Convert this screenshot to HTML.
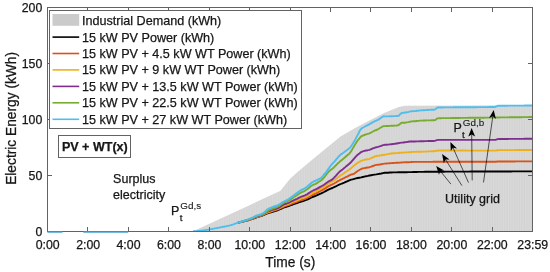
<!DOCTYPE html>
<html lang="en"><head><meta charset="utf-8"><title>Electric Energy vs Time</title>
<style>html,body{margin:0;padding:0;background:#fff;}body{width:550px;height:272px;overflow:hidden;}svg{display:block;}text{font-family:'Liberation Sans', Arial, Helvetica, sans-serif;fill:#161616;stroke:#161616;stroke-width:0.25px;}</style></head><body>
<svg width="550" height="272" viewBox="0 0 550 272">
<rect x="0" y="0" width="550" height="272" fill="#ffffff"/>
<defs><pattern id="st" width="1.686" height="8" patternUnits="userSpaceOnUse" x="47"><rect width="1.686" height="8" fill="#d9d9d9"/><rect x="0" width="0.5" height="8" fill="#d0d0d0"/></pattern><clipPath id="cp"><rect x="47.5" y="7.5" width="485.0" height="224.0"/></clipPath></defs>
<polygon points="192.6,231.5 280.5,190.8 290.0,178.8 297.0,172.6 310.0,161.6 340.5,136.5 354.7,128.3 369.4,120.4 384.1,113.0 398.8,107.0 404.7,105.8 470.0,105.5 532.5,105.0 532.5,231.5 192.6,231.5" fill="url(#st)"/>
<g clip-path="url(#cp)" fill="none" stroke-linejoin="round" stroke-linecap="butt">
<polyline points="238.0,222.7 239.7,222.3 241.4,221.9 243.1,221.5 244.7,221.1 246.4,220.7 248.1,220.3 249.8,219.8 251.5,219.2 253.2,218.6 254.9,218.0 256.5,217.4 258.2,216.9 259.9,216.4 261.6,215.8 263.3,215.1 265.0,214.4 266.7,213.7 268.3,213.1 270.0,212.6 271.7,212.0 273.4,211.5 275.1,211.0 276.8,210.5 278.5,209.9 280.1,209.2 281.8,208.5 283.5,207.7 285.2,207.1 286.9,206.6 288.6,206.0 290.3,205.4 292.0,204.8 293.6,204.2 295.3,203.6 297.0,203.0 298.7,202.4 300.4,201.8 302.1,201.3 303.8,200.8 305.4,200.2 307.1,199.6 308.8,198.8 310.5,198.0 312.2,197.2 313.9,196.5 315.6,195.8 317.2,195.1 318.9,194.3 320.6,193.6 322.3,192.8 324.0,192.0 325.7,191.1 327.4,190.2 329.0,189.4 330.7,188.7 332.4,188.0 334.1,187.2 335.8,186.4 337.5,185.5 339.2,184.7 340.8,184.0 342.5,183.3 344.2,182.6 345.9,181.8 347.6,181.1 349.3,180.3 351.0,179.7 352.6,179.3 354.3,178.8 356.0,178.4 357.7,178.0 359.4,177.7 361.1,177.4 362.8,177.0 364.4,176.6 366.1,176.2 367.8,175.9 369.5,175.5 371.2,175.2 372.9,174.9 374.6,174.6 376.3,174.4 377.9,174.1 379.6,173.8 381.3,173.5 383.0,173.1 384.7,172.8 386.4,172.8 388.1,172.7 389.7,172.5 391.4,172.5 393.1,172.4 394.8,172.4 396.5,172.4 398.2,172.3 399.9,172.3 401.5,172.2 403.2,172.2 404.9,172.2 406.6,172.2 408.3,172.1 410.0,172.1 411.7,172.1 413.3,172.0 415.0,172.0 416.7,172.0 418.4,171.9 420.1,171.9 421.8,171.9 423.5,171.9 425.1,171.8 426.8,171.8 428.5,171.8 430.2,171.8 431.9,171.8 433.6,171.8 435.3,171.8 436.9,171.7 438.6,171.7 440.3,171.7 442.0,171.7 443.7,171.7 445.4,171.6 447.1,171.6 448.7,171.6 450.4,171.6 452.1,171.6 453.8,171.6 455.5,171.6 457.2,171.6 458.9,171.6 460.6,171.6 462.2,171.6 463.9,171.6 465.6,171.6 467.3,171.6 469.0,171.6 470.7,171.5 472.4,171.5 474.0,171.5 475.7,171.5 477.4,171.5 479.1,171.5 480.8,171.5 482.5,171.5 484.2,171.5 485.8,171.5 487.5,171.5 489.2,171.5 490.9,171.5 492.6,171.5 494.3,171.5 496.0,171.5 497.6,171.5 499.3,171.5 501.0,171.5 502.7,171.5 504.4,171.5 506.1,171.5 507.8,171.5 509.4,171.5 511.1,171.5 512.8,171.4 514.5,171.4 516.2,171.4 517.9,171.4 519.6,171.4 521.2,171.4 522.9,171.4 524.6,171.4 526.3,171.4 528.0,171.4 529.7,171.4 531.4,171.4 532.5,171.4" stroke="#000000" stroke-width="1.9"/>
<polyline points="238.0,222.7 239.7,222.3 241.4,221.9 243.1,221.4 244.7,221.0 246.4,220.5 248.1,220.1 249.8,219.6 251.5,219.0 253.2,218.4 254.9,217.7 256.5,217.1 258.2,216.6 259.9,216.1 261.6,215.5 263.3,214.7 265.0,213.9 266.7,213.2 268.3,212.6 270.0,212.0 271.7,211.4 273.4,210.9 275.1,210.3 276.8,209.8 278.5,209.2 280.1,208.5 281.8,207.6 283.5,206.8 285.2,206.1 286.9,205.6 288.6,205.0 290.3,204.4 292.0,203.7 293.6,203.0 295.3,202.4 297.0,201.8 298.7,201.1 300.4,200.4 302.1,199.8 303.8,199.3 305.4,198.8 307.1,198.0 308.8,197.2 310.5,196.2 312.2,195.2 313.9,194.4 315.6,193.7 317.2,192.8 318.9,191.9 320.6,191.0 322.3,190.1 324.0,189.1 325.7,188.1 327.4,186.9 329.0,186.0 330.7,185.1 332.4,184.4 334.1,183.5 335.8,182.5 337.5,181.4 339.2,180.5 340.8,179.6 342.5,178.9 344.2,178.0 345.9,177.1 347.6,176.3 349.3,175.4 351.0,174.6 352.6,174.3 354.3,173.6 356.0,172.2 357.7,171.0 359.4,170.0 361.1,169.0 362.8,168.4 364.4,168.1 366.1,167.8 367.8,167.5 369.5,167.2 371.2,166.7 372.9,166.0 374.6,165.4 376.3,164.9 377.9,164.7 379.6,164.5 381.3,164.2 383.0,163.9 384.7,163.6 386.4,163.5 388.1,163.4 389.7,163.2 391.4,163.1 393.1,163.0 394.8,162.9 396.5,162.8 398.2,162.7 399.9,162.6 401.5,162.5 403.2,162.4 404.9,162.3 406.6,162.3 408.3,162.2 410.0,162.1 411.7,162.0 413.3,161.9 415.0,161.9 416.7,161.9 418.4,161.9 420.1,161.9 421.8,161.9 423.5,161.9 425.1,161.9 426.8,161.9 428.5,161.9 430.2,161.9 431.9,161.9 433.6,161.8 435.3,161.8 436.9,161.8 438.6,161.8 440.3,161.8 442.0,161.8 443.7,161.8 445.4,161.8 447.1,161.8 448.7,161.8 450.4,161.8 452.1,161.8 453.8,161.8 455.5,161.8 457.2,161.8 458.9,161.8 460.6,161.8 462.2,161.8 463.9,161.8 465.6,161.8 467.3,161.8 469.0,161.8 470.7,161.8 472.4,161.8 474.0,161.8 475.7,161.8 477.4,161.8 479.1,161.8 480.8,161.8 482.5,161.8 484.2,161.8 485.8,161.8 487.5,161.8 489.2,161.8 490.9,161.8 492.6,161.8 494.3,161.8 496.0,161.7 497.6,161.5 499.3,161.5 501.0,161.5 502.7,161.5 504.4,161.5 506.1,161.5 507.8,161.5 509.4,161.5 511.1,161.5 512.8,161.5 514.5,161.5 516.2,161.4 517.9,161.4 519.6,161.4 521.2,161.4 522.9,161.4 524.6,161.4 526.3,161.4 528.0,161.4 529.7,161.4 531.4,161.4 532.5,161.4" stroke="#D95319" stroke-width="1.9"/>
<polyline points="238.0,222.7 239.7,222.3 241.4,221.8 243.1,221.4 244.7,220.9 246.4,220.5 248.1,220.0 249.8,219.5 251.5,218.9 253.2,218.2 254.9,217.4 256.5,216.8 258.2,216.3 259.9,215.9 261.6,215.2 263.3,214.3 265.0,213.4 266.7,212.6 268.3,212.0 270.0,211.4 271.7,210.8 273.4,210.2 275.1,209.7 276.8,209.2 278.5,208.5 280.1,207.7 281.8,206.7 283.5,205.8 285.2,205.1 286.9,204.5 288.6,204.0 290.3,203.2 292.0,202.4 293.6,201.7 295.3,201.0 297.0,200.3 298.7,199.6 300.4,198.8 302.1,198.2 303.8,197.7 305.4,197.1 307.1,196.3 308.8,195.3 310.5,194.2 312.2,193.2 313.9,192.3 315.6,191.5 317.2,190.6 318.9,189.6 320.6,188.6 322.3,187.6 324.0,186.6 325.7,185.4 327.4,184.1 329.0,183.1 330.7,182.2 332.4,181.4 334.1,180.4 335.8,179.1 337.5,177.7 339.2,176.4 340.8,175.3 342.5,174.2 344.2,173.0 345.9,171.8 347.6,170.7 349.3,169.5 351.0,168.3 352.6,166.9 354.3,165.4 356.0,164.0 357.7,162.8 359.4,161.8 361.1,160.9 362.8,160.3 364.4,159.9 366.1,159.5 367.8,159.2 369.5,158.9 371.2,158.2 372.9,157.4 374.6,156.7 376.3,156.0 377.9,155.8 379.6,155.6 381.3,155.3 383.0,155.0 384.7,154.8 386.4,154.4 388.1,154.1 389.7,153.8 391.4,153.5 393.1,153.3 394.8,153.2 396.5,153.1 398.2,153.0 399.9,152.8 401.5,152.7 403.2,152.6 404.9,152.5 406.6,152.4 408.3,152.3 410.0,152.2 411.7,152.0 413.3,151.9 415.0,151.9 416.7,151.8 418.4,151.8 420.1,151.7 421.8,151.7 423.5,151.6 425.1,151.6 426.8,151.5 428.5,151.4 430.2,151.4 431.9,151.3 433.6,151.3 435.3,151.0 436.9,150.7 438.6,150.5 440.3,150.5 442.0,150.5 443.7,150.5 445.4,150.5 447.1,150.5 448.7,150.5 450.4,150.5 452.1,150.5 453.8,150.5 455.5,150.5 457.2,150.5 458.9,150.5 460.6,150.5 462.2,150.5 463.9,150.5 465.6,150.5 467.3,150.6 469.0,150.6 470.7,150.6 472.4,150.6 474.0,150.6 475.7,150.6 477.4,150.6 479.1,150.6 480.8,150.6 482.5,150.6 484.2,150.6 485.8,150.6 487.5,150.6 489.2,150.6 490.9,150.6 492.6,150.6 494.3,150.6 496.0,150.5 497.6,150.2 499.3,150.1 501.0,150.1 502.7,150.1 504.4,150.1 506.1,150.1 507.8,150.1 509.4,150.1 511.1,150.1 512.8,150.1 514.5,150.1 516.2,150.0 517.9,150.0 519.6,150.0 521.2,150.0 522.9,150.0 524.6,150.0 526.3,150.0 528.0,150.0 529.7,150.0 531.4,150.0 532.5,150.0" stroke="#EDB120" stroke-width="1.9"/>
<polyline points="238.0,222.7 239.7,222.3 241.4,221.8 243.1,221.3 244.7,220.8 246.4,220.3 248.1,219.8 249.8,219.3 251.5,218.6 253.2,217.9 254.9,217.1 256.5,216.4 258.2,216.0 259.9,215.5 261.6,214.8 263.3,213.9 265.0,212.9 266.7,212.0 268.3,211.4 270.0,210.8 271.7,210.2 273.4,209.6 275.1,209.0 276.8,208.5 278.5,207.9 280.1,207.0 281.8,205.8 283.5,204.7 285.2,204.0 286.9,203.4 288.6,202.8 290.3,202.0 292.0,201.1 293.6,200.3 295.3,199.5 297.0,198.8 298.7,197.9 300.4,197.1 302.1,196.4 303.8,195.8 305.4,195.2 307.1,194.3 308.8,193.1 310.5,192.0 312.2,191.0 313.9,190.2 315.6,189.4 317.2,188.6 318.9,187.6 320.6,186.7 322.3,185.7 324.0,184.7 325.7,183.5 327.4,182.3 329.0,181.2 330.7,180.4 332.4,179.4 334.1,177.7 335.8,175.8 337.5,173.8 339.2,172.1 340.8,170.8 342.5,169.5 344.2,168.1 345.9,166.6 347.6,165.2 349.3,163.8 351.0,162.2 352.6,160.3 354.3,158.3 356.0,156.4 357.7,154.8 359.4,153.5 361.1,152.1 362.8,151.4 364.4,150.9 366.1,150.5 367.8,150.2 369.5,149.8 371.2,149.2 372.9,148.4 374.6,147.8 376.3,147.2 377.9,146.9 379.6,146.4 381.3,145.8 383.0,145.2 384.7,144.8 386.4,144.8 388.1,144.6 389.7,144.4 391.4,144.2 393.1,144.0 394.8,143.8 396.5,143.5 398.2,143.2 399.9,142.9 401.5,142.6 403.2,142.5 404.9,142.3 406.6,142.1 408.3,141.8 410.0,141.5 411.7,141.5 413.3,141.5 415.0,141.5 416.7,141.4 418.4,141.4 420.1,141.3 421.8,141.3 423.5,141.2 425.1,141.1 426.8,141.1 428.5,141.0 430.2,141.0 431.9,140.9 433.6,141.0 435.3,140.6 436.9,140.1 438.6,139.9 440.3,139.9 442.0,139.9 443.7,139.9 445.4,139.9 447.1,139.9 448.7,139.9 450.4,139.9 452.1,139.9 453.8,139.9 455.5,139.9 457.2,139.9 458.9,139.9 460.6,139.9 462.2,139.9 463.9,139.9 465.6,139.9 467.3,139.9 469.0,139.9 470.7,139.9 472.4,139.9 474.0,139.9 475.7,139.9 477.4,139.9 479.1,139.9 480.8,139.9 482.5,139.9 484.2,139.9 485.8,139.9 487.5,139.9 489.2,139.9 490.9,139.9 492.6,139.9 494.3,139.9 496.0,139.7 497.6,139.1 499.3,139.0 501.0,139.0 502.7,139.0 504.4,139.0 506.1,139.0 507.8,139.0 509.4,138.9 511.1,138.9 512.8,138.9 514.5,138.9 516.2,138.9 517.9,138.9 519.6,138.9 521.2,138.9 522.9,138.9 524.6,138.8 526.3,138.8 528.0,138.8 529.7,138.8 531.4,138.8 532.5,138.8" stroke="#7E2F8E" stroke-width="1.9"/>
<polyline points="238.0,222.7 239.7,222.2 241.4,221.7 243.1,221.2 244.7,220.7 246.4,220.2 248.1,219.7 249.8,219.1 251.5,218.4 253.2,217.7 254.9,216.8 256.5,216.1 258.2,215.7 259.9,215.3 261.6,214.7 263.3,213.8 265.0,212.8 266.7,211.6 268.3,210.6 270.0,209.7 271.7,209.0 273.4,208.4 275.1,207.8 276.8,207.2 278.5,206.4 280.1,205.2 281.8,203.9 283.5,202.7 285.2,201.9 286.9,201.3 288.6,200.6 290.3,199.7 292.0,198.5 293.6,197.3 295.3,196.2 297.0,195.1 298.7,194.0 300.4,192.9 302.1,192.0 303.8,191.3 305.4,190.5 307.1,189.3 308.8,187.9 310.5,186.5 312.2,185.3 313.9,184.5 315.6,183.8 317.2,182.9 318.9,181.8 320.6,180.8 322.3,179.4 324.0,177.5 325.7,175.3 327.4,173.1 329.0,171.3 330.7,169.9 332.4,168.7 334.1,167.2 335.8,165.5 337.5,163.7 339.2,162.1 340.8,160.7 342.5,159.4 344.2,158.0 345.9,156.5 347.6,155.1 349.3,153.7 351.0,151.5 352.6,148.7 354.3,145.7 356.0,142.9 357.7,140.5 359.4,138.4 361.1,136.4 362.8,135.6 364.4,135.0 366.1,134.4 367.8,133.9 369.5,133.4 371.2,132.5 372.9,131.5 374.6,130.7 376.3,130.0 377.9,129.3 379.6,128.3 381.3,127.2 383.0,126.2 384.7,126.1 386.4,126.0 388.1,126.0 389.7,125.9 391.4,125.8 393.1,125.7 394.8,125.6 396.5,125.5 398.2,125.3 399.9,124.1 401.5,122.8 403.2,122.8 404.9,122.7 406.6,122.4 408.3,122.1 410.0,121.7 411.7,121.4 413.3,121.3 415.0,121.2 416.7,121.0 418.4,120.9 420.1,120.6 421.8,120.6 423.5,120.5 425.1,120.5 426.8,120.4 428.5,120.4 430.2,120.4 431.9,120.3 433.6,120.3 435.3,120.1 436.9,118.6 438.6,118.2 440.3,118.2 442.0,118.1 443.7,118.1 445.4,118.1 447.1,118.1 448.7,118.1 450.4,118.1 452.1,118.0 453.8,118.0 455.5,118.0 457.2,118.0 458.9,118.0 460.6,117.9 462.2,117.9 463.9,117.9 465.6,117.9 467.3,117.9 469.0,117.8 470.7,117.8 472.4,117.8 474.0,117.8 475.7,117.8 477.4,117.7 479.1,117.7 480.8,117.7 482.5,117.7 484.2,117.7 485.8,117.6 487.5,117.6 489.2,117.6 490.9,117.6 492.6,117.6 494.3,117.5 496.0,117.5 497.6,117.5 499.3,117.5 501.0,117.4 502.7,117.4 504.4,117.4 506.1,117.4 507.8,117.4 509.4,117.3 511.1,117.3 512.8,117.3 514.5,117.2 516.2,117.2 517.9,117.2 519.6,117.2 521.2,117.2 522.9,117.1 524.6,117.1 526.3,117.1 528.0,117.1 529.7,117.0 531.4,117.0 532.5,117.0" stroke="#77AC30" stroke-width="1.9"/>
<polyline points="193.0,231.3 194.7,231.2 196.4,231.1 198.1,230.9 199.7,230.8 201.4,230.6 203.1,230.4 204.8,230.2 206.5,229.9 208.2,229.7 209.9,229.4 211.5,229.1 213.2,228.8 214.9,228.4 216.6,228.1 218.3,227.8 220.0,227.4 221.7,227.1 223.3,226.8 225.0,226.5 226.7,226.1 228.4,225.8 230.1,225.4 231.8,224.8 233.5,224.3 235.2,223.7 236.8,223.1 238.5,222.6 240.2,222.0 241.9,221.5 243.6,220.9 245.3,220.3 247.0,219.8 248.6,219.2 250.3,218.6 252.0,218.0 253.7,217.0 255.4,216.0 257.1,215.4 258.8,215.0 260.4,214.5 262.1,213.7 263.8,212.7 265.5,211.3 267.2,209.5 268.9,208.5 270.6,207.8 272.2,207.1 273.9,206.5 275.6,206.0 277.3,205.5 279.0,204.7 280.7,203.5 282.4,202.4 284.0,201.5 285.7,200.6 287.4,199.8 289.1,198.8 290.8,197.6 292.5,196.2 294.2,195.0 295.8,193.8 297.5,192.6 299.2,191.3 300.9,190.2 302.6,189.4 304.3,188.6 306.0,187.6 307.6,186.2 309.3,184.7 311.0,183.2 312.7,182.0 314.4,181.2 316.1,180.5 317.8,179.7 319.4,178.9 321.1,178.1 322.8,176.0 324.5,173.8 326.2,172.1 327.9,169.6 329.6,167.2 331.3,165.0 332.9,163.2 334.6,161.4 336.3,159.3 338.0,157.3 339.7,155.5 341.4,154.1 343.1,153.0 344.7,151.8 346.4,150.5 348.1,149.3 349.8,148.0 351.5,145.7 353.2,143.1 354.9,140.3 356.5,137.1 358.2,134.0 359.9,130.3 361.6,128.4 363.3,127.5 365.0,126.5 366.7,125.6 368.3,124.8 370.0,123.9 371.7,122.9 373.4,121.9 375.1,121.1 376.8,120.4 378.5,119.6 380.1,118.5 381.8,117.3 383.5,116.2 385.2,116.4 386.9,116.4 388.6,116.4 390.3,116.3 391.9,116.2 393.6,116.1 395.3,116.1 397.0,116.0 398.7,115.9 400.4,113.9 402.1,112.9 403.7,112.7 405.4,112.5 407.1,112.3 408.8,111.9 410.5,111.4 412.2,111.2 413.9,111.1 415.6,111.0 417.2,110.8 418.9,110.6 420.6,110.4 422.3,110.3 424.0,110.2 425.7,110.1 427.4,110.0 429.0,109.9 430.7,109.8 432.4,109.8 434.1,109.8 435.8,109.0 437.5,107.5 439.2,107.5 440.8,107.5 442.5,107.5 444.2,107.4 445.9,107.4 447.6,107.4 449.3,107.4 451.0,107.4 452.6,107.4 454.3,107.3 456.0,107.3 457.7,107.3 459.4,107.3 461.1,107.3 462.8,107.3 464.4,107.3 466.1,107.3 467.8,107.2 469.5,107.2 471.2,107.2 472.9,107.2 474.6,107.2 476.2,107.2 477.9,107.1 479.6,107.1 481.3,107.1 483.0,107.1 484.7,107.1 486.4,107.1 488.0,107.1 489.7,107.0 491.4,107.0 493.1,107.0 494.8,107.0 496.5,106.4 498.2,105.7 499.9,105.7 501.5,105.7 503.2,105.7 504.9,105.7 506.6,105.7 508.3,105.6 510.0,105.6 511.7,105.6 513.3,105.6 515.0,105.6 516.7,105.6 518.4,105.6 520.1,105.6 521.8,105.6 523.5,105.6 525.1,105.5 526.8,105.5 528.5,105.5 530.2,105.5 531.9,105.5 532.5,105.5" stroke="#4DBEEE" stroke-width="1.9"/>
</g>
<rect x="47.5" y="7.5" width="485.0" height="224.0" fill="none" stroke="#636363" stroke-width="1"/>
<path d="M87.50 231.5v-4.5M87.50 7.5v4.5M128.50 231.5v-4.5M128.50 7.5v4.5M168.50 231.5v-4.5M168.50 7.5v4.5M209.50 231.5v-4.5M209.50 7.5v4.5M249.50 231.5v-4.5M249.50 7.5v4.5M290.50 231.5v-4.5M290.50 7.5v4.5M330.50 231.5v-4.5M330.50 7.5v4.5M370.50 231.5v-4.5M370.50 7.5v4.5M411.50 231.5v-4.5M411.50 7.5v4.5M451.50 231.5v-4.5M451.50 7.5v4.5M492.50 231.5v-4.5M492.50 7.5v4.5M47.5 175.50h4.5M532.5 175.50h-4.5M47.5 119.50h4.5M532.5 119.50h-4.5M47.5 63.50h4.5M532.5 63.50h-4.5" stroke="#636363" stroke-width="1" fill="none"/>
<path d="M47.4 231.9H62.4M83.3 231.9H128.2" stroke="#2f9bd0" stroke-width="1.7" fill="none" opacity="0.9"/>
<g font-size="12.3px" text-anchor="middle">
<text x="47.7" y="248.9">0:00</text>
<text x="88.1" y="248.9">2:00</text>
<text x="128.5" y="248.9">4:00</text>
<text x="168.9" y="248.9">6:00</text>
<text x="209.4" y="248.9">8:00</text>
<text x="249.8" y="248.9">10:00</text>
<text x="290.2" y="248.9">12:00</text>
<text x="330.6" y="248.9">14:00</text>
<text x="371.0" y="248.9">16:00</text>
<text x="411.4" y="248.9">18:00</text>
<text x="451.9" y="248.9">20:00</text>
<text x="492.3" y="248.9">22:00</text>
<text x="532.7" y="248.9">23:59</text>
</g>
<g font-size="12.3px" text-anchor="end">
<text x="42.3" y="236.2">0</text>
<text x="42.3" y="180.2">50</text>
<text x="42.3" y="124.2">100</text>
<text x="42.3" y="68.2">150</text>
<text x="42.3" y="12.2">200</text>
</g>
<text x="290.3" y="266.6" font-size="13.75px" text-anchor="middle">Time (s)</text>
<text transform="translate(15.8 118.4) rotate(-90)" font-size="13.75px" text-anchor="middle">Electric Energy (kWh)</text>
<rect x="49.5" y="10.5" width="252.0" height="118.0" fill="#ffffff" stroke="#636363" stroke-width="1"/>
<rect x="52.5" y="14" width="26.7" height="11.8" fill="#cbcbcb"/>
<g font-size="12.6px">
<text x="82.0" y="25.0">Industrial Demand (kWh)</text>
<line x1="52.5" x2="79.2" y1="37.1" y2="37.1" stroke="#000000" stroke-width="1.6"/>
<text x="82.0" y="41.5">15 kW PV Power (kWh)</text>
<line x1="52.5" x2="79.2" y1="53.5" y2="53.5" stroke="#D95319" stroke-width="1.6"/>
<text x="82.0" y="57.9">15 kW PV + 4.5 kW WT Power (kWh)</text>
<line x1="52.5" x2="79.2" y1="69.9" y2="69.9" stroke="#EDB120" stroke-width="1.6"/>
<text x="82.0" y="74.3">15 kW PV + 9 kW WT Power (kWh)</text>
<line x1="52.5" x2="79.2" y1="86.4" y2="86.4" stroke="#7E2F8E" stroke-width="1.6"/>
<text x="82.0" y="90.8">15 kW PV + 13.5 kW WT Power (kWh)</text>
<line x1="52.5" x2="79.2" y1="102.8" y2="102.8" stroke="#77AC30" stroke-width="1.6"/>
<text x="82.0" y="107.2">15 kW PV + 22.5 kW WT Power (kWh)</text>
<line x1="52.5" x2="79.2" y1="119.3" y2="119.3" stroke="#4DBEEE" stroke-width="1.6"/>
<text x="82.0" y="123.7">15 kW PV + 27 kW WT Power (kWh)</text>
</g>
<rect x="58.5" y="135.5" width="72" height="22" fill="#ffffff" stroke="#636363" stroke-width="1"/>
<text x="61.9" y="150.8" font-size="12.55px" font-weight="bold" fill="#000">PV + WT(x)</text>
<g font-size="12.5px">
<text x="113.1" y="183.0">Surplus</text>
<text x="113.1" y="199.2">electricity</text>
<text x="171" y="214.9">P<tspan font-size="9.9px" stroke-width="0.1" dx="1" dy="-5.8">Gd,s</tspan></text>
<text x="179.8" y="220.6" font-size="9.9px" stroke-width="0.1">t</text>
<text x="453.4" y="132.1">P<tspan font-size="9.9px" stroke-width="0.1" dx="1" dy="-5.9">Gd,b</tspan></text>
<text x="462.1" y="138.0" font-size="9.9px" stroke-width="0.1">t</text>
<text x="445.1" y="203.2">Utility grid</text>
</g>
<line x1="468.5" y1="182.6" x2="453.0" y2="147.7" stroke="#000" stroke-width="0.65"/>
<polygon points="450.4,141.9 457.0,148.4 453.0,147.7 450.8,151.1" fill="#000"/>
<line x1="461.9" y1="185.6" x2="445.5" y2="159.5" stroke="#000" stroke-width="0.65"/>
<polygon points="442.1,154.1 449.6,159.6 445.5,159.5 443.8,163.2" fill="#000"/>
<line x1="450.9" y1="184.1" x2="440.2" y2="170.9" stroke="#000" stroke-width="0.65"/>
<polygon points="436.2,165.9 444.2,170.5 440.2,170.9 439.0,174.7" fill="#000"/>
<line x1="472.2" y1="180.4" x2="471.7" y2="134.4" stroke="#000" stroke-width="0.65"/>
<polygon points="471.6,128.0 475.1,136.6 471.7,134.4 468.3,136.6" fill="#000"/>
<line x1="483.5" y1="182.4" x2="492.8" y2="116.2" stroke="#000" stroke-width="0.65"/>
<polygon points="493.7,109.9 495.9,118.9 492.8,116.2 489.1,117.9" fill="#000"/>
</svg></body></html>
